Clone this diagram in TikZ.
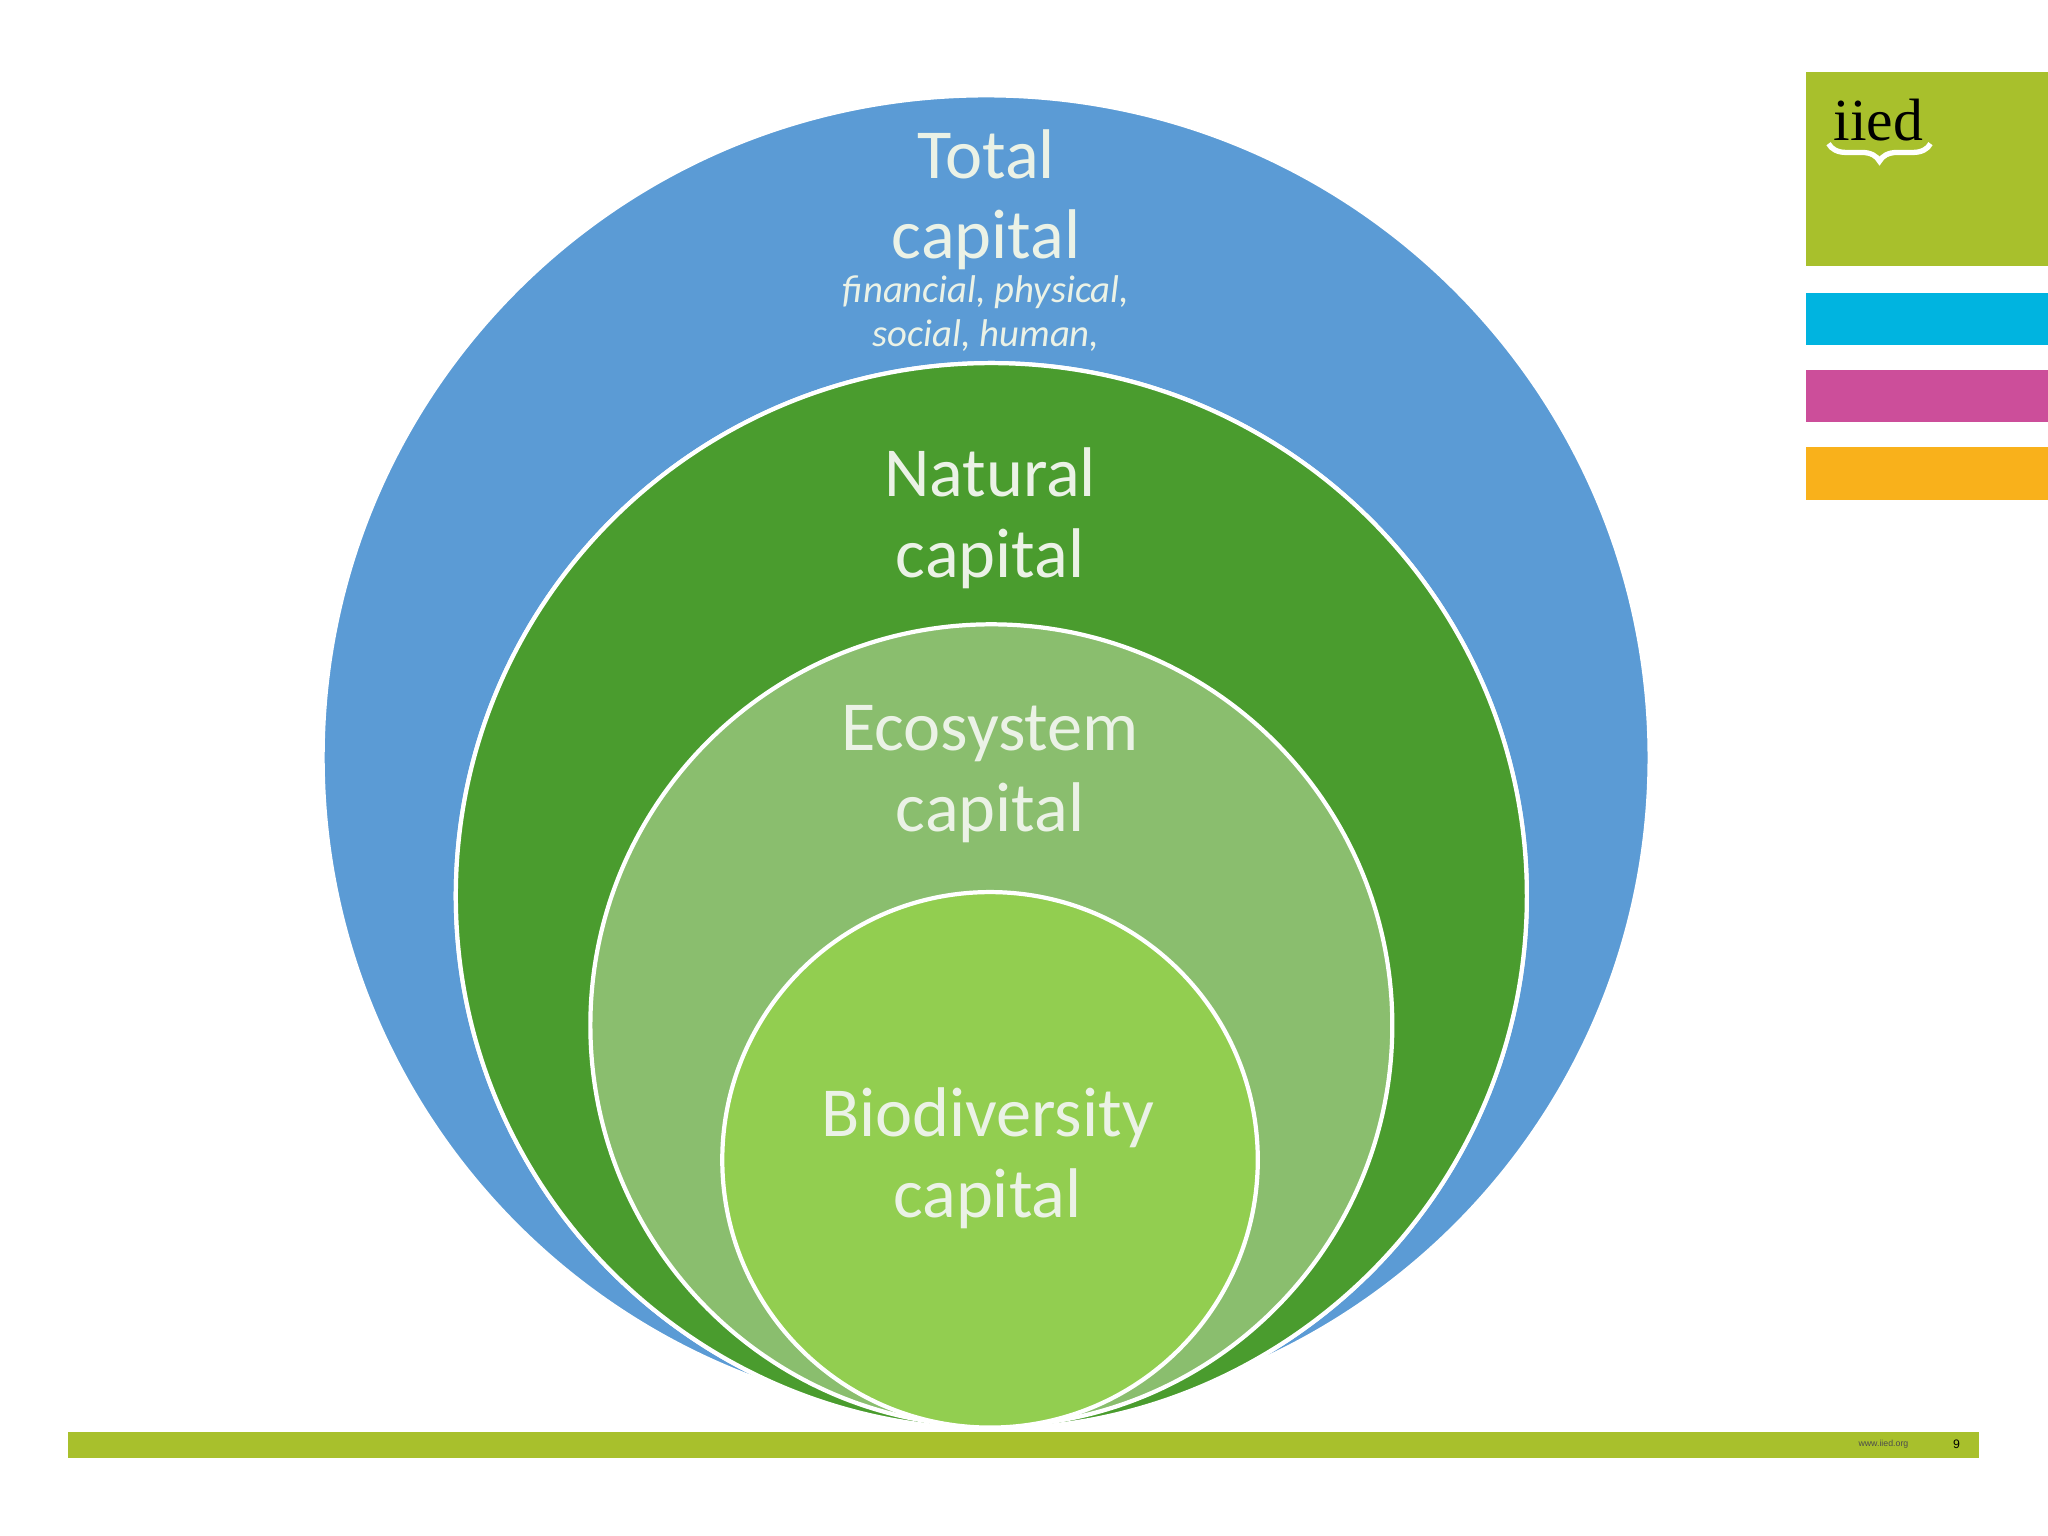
\documentclass[tikz,border=0pt]{standalone}
\usepackage{fontspec}
\setmainfont{Carlito}
\newfontfamily\serifb{Liberation Serif}
\newfontfamily\arialf{Liberation Sans}
\usetikzlibrary{decorations.pathreplacing}
\definecolor{cblue}{RGB}{91,155,213}
\definecolor{cdgreen}{RGB}{74,156,46}
\definecolor{cmgreen}{RGB}{138,190,110}
\definecolor{clgreen}{RGB}{146,206,80}
\definecolor{colive}{RGB}{168,192,44}
\definecolor{ccyan}{RGB}{0,180,224}
\definecolor{cmag}{RGB}{204,78,154}
\definecolor{corange}{RGB}{249,177,27}
\definecolor{ctxt}{RGB}{235,242,230}
\tikzset{ring/.style={draw=white,line width=1.2pt},
 lab/.style={align=center,text=ctxt,font=\fontsize{20}{23}\selectfont},
 bar/.style={draw=none}}
\begin{document}
\begin{tikzpicture}[x=0.01306cm,y=-0.01306cm]
\useasboundingbox (0,0) rectangle (1568,1176);
\fill[white] (0,0) rectangle (1568,1176);
\fill[ring,fill=cblue] (755,580) ellipse (508 and 507);
\fill[ring,fill=cdgreen] (759,686) ellipse (410 and 408);
\draw[ring,fill=cdgreen] (759,686) ellipse (410 and 408);
\draw[ring,fill=cmgreen] (759,785) ellipse (307 and 307);
\draw[ring,fill=clgreen] (758,888) ellipse (205 and 205);
\node[lab] (total) at (755,153) {Total\\capital};
\node[align=center,text=ctxt,font=\fontsize{11}{12.5}\selectfont\itshape] (sub) at (755,240) {financial, physical,\\social, human,};
\node[lab] (nat) at (758,397) {Natural\\capital};
\node[lab] (eco) at (758,593) {Ecosystem\\capital};
\node[lab] (bio) at (756,887) {Biodiversity\\capital};
% logo
\fill[colive] (1383,55) rectangle (1568,204);
\fill[ccyan] (1383,224) rectangle (1568,264);
\fill[cmag] (1383,283) rectangle (1568,323);
\fill[corange] (1383,342) rectangle (1568,383);
\node[font=\serifb\fontsize{17}{17}\selectfont,text=black] (iied) at (1438,92) {iied};
\draw[white,line width=1.5pt,decorate,decoration={brace,amplitude=5pt,mirror}] (1400,110) -- (1478,110);
% bottom bar
\fill[colive] (52,1096) rectangle (1515,1116);
\node[font=\arialf\fontsize{2.5}{3}\selectfont,text=black!70] (url) at (1442,1106) {www.iied.org};
\node[font=\arialf\fontsize{3.5}{4}\selectfont] (pg) at (1498,1106) {9};
\end{tikzpicture}
\end{document}
